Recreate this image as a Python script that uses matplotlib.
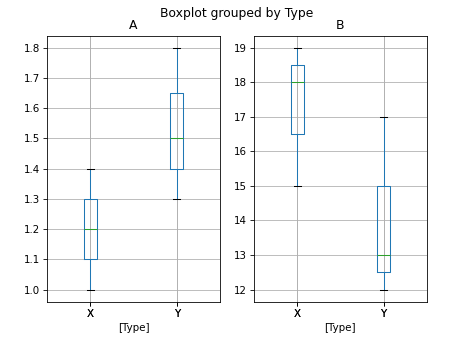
import matplotlib
matplotlib.use("Agg")
import matplotlib.pyplot as plt
import pandas as pd

# five samples per group, read from the box/whisker positions
types = ["X", "X", "X", "X", "X", "Y", "Y", "Y", "Y", "Y"]
a_values = [1.0, 1.1, 1.2, 1.3, 1.4, 1.3, 1.4, 1.5, 1.65, 1.8]
b_values = [15, 16.5, 18, 18.5, 19, 12, 12.5, 13, 15, 17]

df = pd.DataFrame({"A": a_values, "B": b_values, "Type": types})

axes = df.boxplot(by="Type", figsize=(474 / 74, 355 / 74), sharey=False)

plt.savefig("out.png", dpi=74)
